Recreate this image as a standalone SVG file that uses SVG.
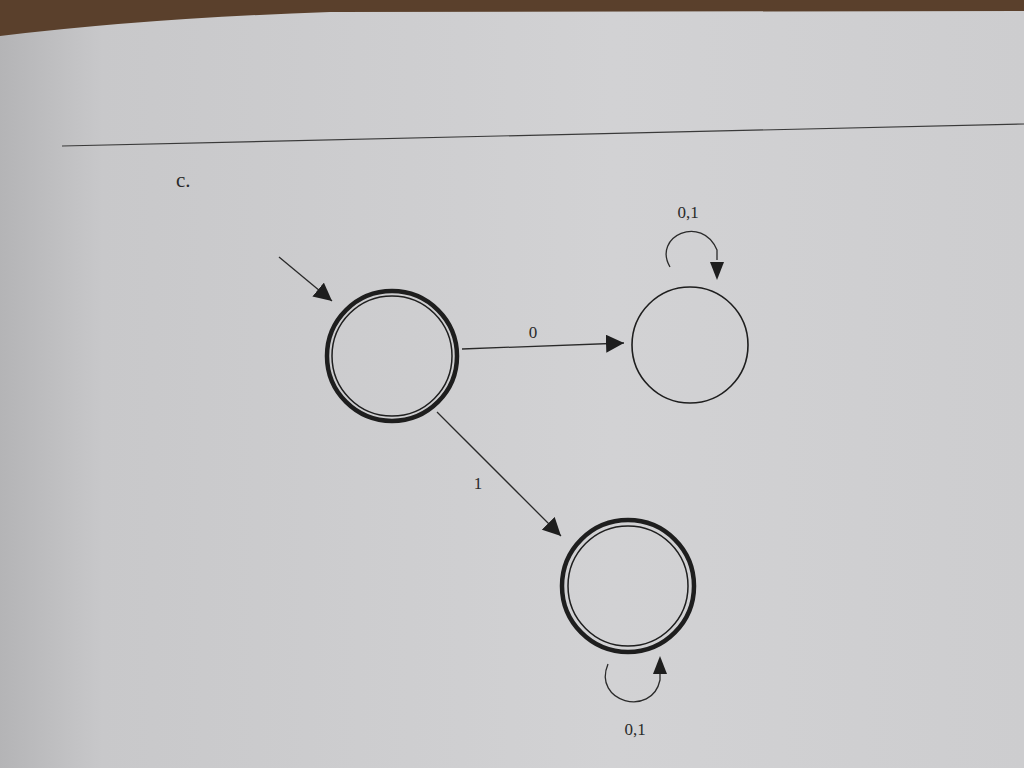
<svg xmlns="http://www.w3.org/2000/svg" width="1024" height="768" viewBox="0 0 1024 768">
<defs>
<linearGradient id="paper" x1="0" y1="0" x2="1" y2="0">
<stop offset="0" stop-color="#b4b4b6"/>
<stop offset="0.1" stop-color="#c8c8ca"/>
<stop offset="0.6" stop-color="#d2d2d4"/>
<stop offset="1" stop-color="#cdcdcf"/>
</linearGradient>
<marker id="ahb" viewBox="0 0 10 10" refX="10" refY="5" markerWidth="18" markerHeight="18" markerUnits="userSpaceOnUse" orient="auto">
<path d="M0,0 L10,5 L0,10 z" fill="#1e1e1e"/>
</marker>
<style>
.lbl{font-family:"Liberation Serif",serif;font-size:17px;fill:#2a2a2a;text-anchor:middle}
.edge{fill:none;stroke:#2a2a2a;stroke-width:1.3}
.outer{fill:none;stroke:#1e1e1e;stroke-width:4.5}
.inner{fill:none;stroke:#1e1e1e;stroke-width:1.5}
.single{fill:none;stroke:#1e1e1e;stroke-width:1.6}
</style>
</defs>
<rect width="1024" height="768" fill="url(#paper)"/>
<path d="M0,0 H1024 V11 L330,12 Q150,18 0,36 Z" fill="#5a402c"/>
<line x1="62" y1="146" x2="1024" y2="124" stroke="#3a3a3a" stroke-width="1.2"/>
<text x="176" y="187" style="font-family:'Liberation Serif',serif;font-size:21px;fill:#2a2a2a">c.</text>
<g id="q0">
<circle cx="392" cy="356" r="65" class="outer"/>
<circle cx="392" cy="356" r="60" class="inner"/>
</g>
<g id="q1">
<circle cx="690" cy="345" r="58" class="single"/>
</g>
<g id="q2">
<circle cx="628" cy="586" r="66" class="outer"/>
<circle cx="628" cy="586" r="60" class="inner"/>
</g>
<g id="connectors">
<line x1="279" y1="257" x2="332" y2="301" class="edge" marker-end="url(#ahb)"/>
<line x1="462" y1="349" x2="624" y2="343" class="edge" marker-end="url(#ahb)"/>
<line x1="437" y1="412" x2="561" y2="536" class="edge" marker-end="url(#ahb)"/>
<path d="M670,267 C652,236 702,214 717,250 L717,260" class="edge"/>
<path d="M710,262 L724,262 L717,280 Z" fill="#1e1e1e"/>
<path d="M608,664 C592,702 652,718 660,680 L660,672" class="edge"/>
<path d="M653,674 L667,674 L660,656 Z" fill="#1e1e1e"/>
</g>
<text x="533" y="338" class="lbl">0</text>
<text x="478" y="489" class="lbl">1</text>
<text x="688" y="218" class="lbl">0,1</text>
<text x="635" y="735" class="lbl">0,1</text>
</svg>
